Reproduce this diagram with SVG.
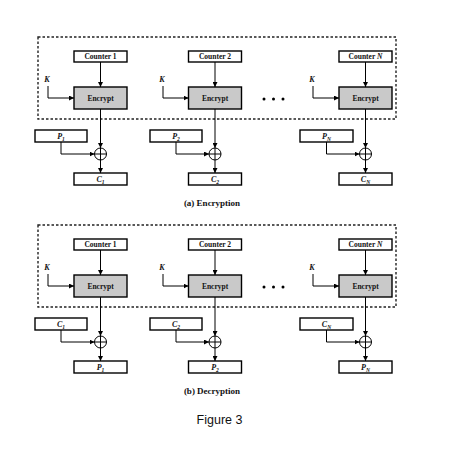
<svg xmlns="http://www.w3.org/2000/svg" width="474" height="463" viewBox="0 0 474 463">
<style>
.bx{fill:#fff;stroke:#000;stroke-width:1.4}
.enc{fill:#c9c9c9;stroke:#000;stroke-width:1.4}
.t{font-family:"Liberation Serif","Times New Roman",serif;font-weight:bold;font-size:7.5px;text-anchor:middle;fill:#111}
.lb{font-family:"Liberation Serif","Times New Roman",serif;font-weight:bold;font-style:italic;font-size:8px;text-anchor:middle;fill:#111}
.sub{font-size:5.5px}
.cap{font-family:"Liberation Serif","Times New Roman",serif;font-weight:bold;font-size:9px;text-anchor:middle;fill:#111}
.fig{font-family:"Liberation Sans",Arial,sans-serif;font-size:12.5px;text-anchor:middle;fill:#111}
.ln{fill:none;stroke:#000;stroke-width:1}
.dash{fill:none;stroke:#222;stroke-width:1.4;stroke-dasharray:2.5,2}
.xor{fill:#fff;stroke:#000;stroke-width:1}
</style>
<defs>
<marker id="ah" viewBox="0 0 6 6" refX="6" refY="3" markerWidth="5" markerHeight="5" markerUnits="userSpaceOnUse" orient="auto">
<path d="M0,0 L6,3 L0,6 Z" fill="#000"/>
</marker>
</defs>
<rect width="474" height="463" fill="#fff"/>

<!-- Encryption -->
<g id="enc-frame"><rect class="dash" x="38" y="37" width="358" height="82"/></g>
<g id="enc-counter1"><rect class="bx" x="74" y="51" width="53" height="11"/><text class="t" x="100.5" y="59">Counter 1</text></g>
<g id="enc-counter2"><rect class="bx" x="188.5" y="51" width="53" height="11"/><text class="t" x="215" y="59">Counter 2</text></g>
<g id="enc-counterN"><rect class="bx" x="339" y="51" width="53" height="11"/><text class="t" x="365.5" y="59">Counter <tspan font-style="italic">N</tspan></text></g>
<g id="enc-encrypt1"><rect class="enc" x="74" y="87" width="53" height="22"/><text class="t" x="100.5" y="100.5">Encrypt</text></g>
<g id="enc-encrypt2"><rect class="enc" x="188.5" y="87" width="53" height="22"/><text class="t" x="215" y="100.5">Encrypt</text></g>
<g id="enc-encryptN"><rect class="enc" x="339" y="87" width="53" height="22"/><text class="t" x="365.5" y="100.5">Encrypt</text></g>
<g id="enc-k1"><text class="lb" x="47" y="82">K</text></g>
<g id="enc-k2"><text class="lb" x="162" y="82">K</text></g>
<g id="enc-kN"><text class="lb" x="312" y="82">K</text></g>
<g id="enc-dots"><circle cx="264" cy="99" r="1.5"/><circle cx="273.5" cy="99" r="1.5"/><circle cx="283" cy="99" r="1.5"/></g>
<g id="enc-p1"><rect class="bx" x="35" y="130" width="52" height="12"/><text class="lb" x="61" y="139">P<tspan class="sub" dy="1.5">1</tspan></text></g>
<g id="enc-p2"><rect class="bx" x="150" y="130" width="52" height="12"/><text class="lb" x="176" y="139">P<tspan class="sub" dy="1.5">2</tspan></text></g>
<g id="enc-pN"><rect class="bx" x="300" y="130" width="53" height="12"/><text class="lb" x="326.5" y="139">P<tspan class="sub" dy="1.5">N</tspan></text></g>
<g id="enc-xor1"><circle class="xor" cx="100.5" cy="154" r="6"/><path class="ln" d="M94.5,154H106.5M100.5,148V160"/></g>
<g id="enc-xor2"><circle class="xor" cx="215" cy="154" r="6"/><path class="ln" d="M209,154H221M215,148V160"/></g>
<g id="enc-xorN"><circle class="xor" cx="365.5" cy="154" r="6"/><path class="ln" d="M359.5,154H371.5M365.5,148V160"/></g>
<g id="enc-c1"><rect class="bx" x="74" y="173" width="53" height="12"/><text class="lb" x="100.5" y="182">C<tspan class="sub" dy="1.5">1</tspan></text></g>
<g id="enc-c2"><rect class="bx" x="188.5" y="173" width="53" height="12"/><text class="lb" x="215" y="182">C<tspan class="sub" dy="1.5">2</tspan></text></g>
<g id="enc-cN"><rect class="bx" x="339" y="173" width="53" height="12"/><text class="lb" x="365.5" y="182">C<tspan class="sub" dy="1.5">N</tspan></text></g>
<g id="cap-a"><text class="cap" x="212" y="206">(a) Encryption</text></g>

<!-- Decryption -->
<g id="dec-frame"><rect class="dash" x="38" y="225" width="358" height="82"/></g>
<g id="dec-counter1"><rect class="bx" x="74" y="239" width="53" height="11"/><text class="t" x="100.5" y="247">Counter 1</text></g>
<g id="dec-counter2"><rect class="bx" x="188.5" y="239" width="53" height="11"/><text class="t" x="215" y="247">Counter 2</text></g>
<g id="dec-counterN"><rect class="bx" x="339" y="239" width="53" height="11"/><text class="t" x="365.5" y="247">Counter <tspan font-style="italic">N</tspan></text></g>
<g id="dec-encrypt1"><rect class="enc" x="74" y="275" width="53" height="22"/><text class="t" x="100.5" y="288.5">Encrypt</text></g>
<g id="dec-encrypt2"><rect class="enc" x="188.5" y="275" width="53" height="22"/><text class="t" x="215" y="288.5">Encrypt</text></g>
<g id="dec-encryptN"><rect class="enc" x="339" y="275" width="53" height="22"/><text class="t" x="365.5" y="288.5">Encrypt</text></g>
<g id="dec-k1"><text class="lb" x="47" y="270">K</text></g>
<g id="dec-k2"><text class="lb" x="162" y="270">K</text></g>
<g id="dec-kN"><text class="lb" x="312" y="270">K</text></g>
<g id="dec-dots"><circle cx="264" cy="287" r="1.5"/><circle cx="273.5" cy="287" r="1.5"/><circle cx="283" cy="287" r="1.5"/></g>
<g id="dec-c1"><rect class="bx" x="35" y="318" width="52" height="12"/><text class="lb" x="61" y="327">C<tspan class="sub" dy="1.5">1</tspan></text></g>
<g id="dec-c2"><rect class="bx" x="150" y="318" width="52" height="12"/><text class="lb" x="176" y="327">C<tspan class="sub" dy="1.5">2</tspan></text></g>
<g id="dec-cN"><rect class="bx" x="300" y="318" width="53" height="12"/><text class="lb" x="326.5" y="327">C<tspan class="sub" dy="1.5">N</tspan></text></g>
<g id="dec-xor1"><circle class="xor" cx="100.5" cy="342" r="6"/><path class="ln" d="M94.5,342H106.5M100.5,336V348"/></g>
<g id="dec-xor2"><circle class="xor" cx="215" cy="342" r="6"/><path class="ln" d="M209,342H221M215,336V348"/></g>
<g id="dec-xorN"><circle class="xor" cx="365.5" cy="342" r="6"/><path class="ln" d="M359.5,342H371.5M365.5,336V348"/></g>
<g id="dec-p1"><rect class="bx" x="74" y="361" width="53" height="12"/><text class="lb" x="100.5" y="370">P<tspan class="sub" dy="1.5">1</tspan></text></g>
<g id="dec-p2"><rect class="bx" x="188.5" y="361" width="53" height="12"/><text class="lb" x="215" y="370">P<tspan class="sub" dy="1.5">2</tspan></text></g>
<g id="dec-pN"><rect class="bx" x="339" y="361" width="53" height="12"/><text class="lb" x="365.5" y="370">P<tspan class="sub" dy="1.5">N</tspan></text></g>
<g id="cap-b"><text class="cap" x="212" y="394">(b) Decryption</text></g>
<g id="figure"><text class="fig" x="219.5" y="424">Figure 3</text></g>

<g id="connectors">
<!-- encryption -->
<path class="ln" marker-end="url(#ah)" d="M100.5,62V87"/>
<path class="ln" marker-end="url(#ah)" d="M215,62V87"/>
<path class="ln" marker-end="url(#ah)" d="M365.5,62V87"/>
<path class="ln" marker-end="url(#ah)" d="M48,86V98H74"/>
<path class="ln" marker-end="url(#ah)" d="M163,86V98H188.5"/>
<path class="ln" marker-end="url(#ah)" d="M313,86V98H339"/>
<path class="ln" marker-end="url(#ah)" d="M100.5,109V148"/>
<path class="ln" marker-end="url(#ah)" d="M215,109V148"/>
<path class="ln" marker-end="url(#ah)" d="M365.5,109V148"/>
<path class="ln" marker-end="url(#ah)" d="M61,142V154H94.5"/>
<path class="ln" marker-end="url(#ah)" d="M176,142V154H209"/>
<path class="ln" marker-end="url(#ah)" d="M326.5,142V154H359.5"/>
<path class="ln" marker-end="url(#ah)" d="M100.5,160V173"/>
<path class="ln" marker-end="url(#ah)" d="M215,160V173"/>
<path class="ln" marker-end="url(#ah)" d="M365.5,160V173"/>
<!-- decryption -->
<path class="ln" marker-end="url(#ah)" d="M100.5,250V275"/>
<path class="ln" marker-end="url(#ah)" d="M215,250V275"/>
<path class="ln" marker-end="url(#ah)" d="M365.5,250V275"/>
<path class="ln" marker-end="url(#ah)" d="M48,274V286H74"/>
<path class="ln" marker-end="url(#ah)" d="M163,274V286H188.5"/>
<path class="ln" marker-end="url(#ah)" d="M313,274V286H339"/>
<path class="ln" marker-end="url(#ah)" d="M100.5,297V336"/>
<path class="ln" marker-end="url(#ah)" d="M215,297V336"/>
<path class="ln" marker-end="url(#ah)" d="M365.5,297V336"/>
<path class="ln" marker-end="url(#ah)" d="M61,330V342H94.5"/>
<path class="ln" marker-end="url(#ah)" d="M176,330V342H209"/>
<path class="ln" marker-end="url(#ah)" d="M326.5,330V342H359.5"/>
<path class="ln" marker-end="url(#ah)" d="M100.5,348V361"/>
<path class="ln" marker-end="url(#ah)" d="M215,348V361"/>
<path class="ln" marker-end="url(#ah)" d="M365.5,348V361"/>
</g>
</svg>
